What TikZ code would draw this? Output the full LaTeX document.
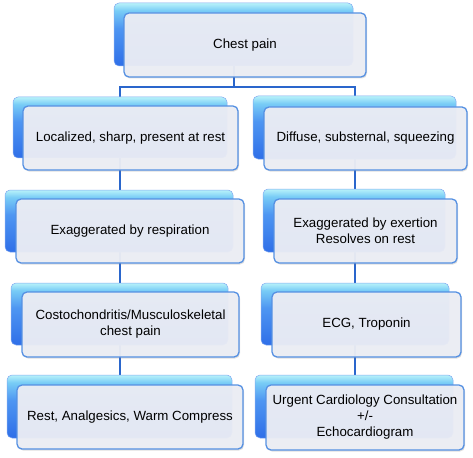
\documentclass[tikz,border=0pt]{standalone}
\usepackage{fontspec}
\setmainfont{Liberation Sans}
\usetikzlibrary{shadows,backgrounds}
\definecolor{connc}{HTML}{2A66CC}
\definecolor{frontfill}{HTML}{ECEEF5}
\definecolor{frontdraw}{HTML}{5590E2}
\definecolor{backtop}{HTML}{B8F2FA}
\definecolor{backcyan}{HTML}{78CCF6}
\definecolor{backmid}{HTML}{4E96F2}
\definecolor{backbot}{HTML}{2F6FE8}
\pgfdeclareverticalshading{backshade}{100bp}{color(0bp)=(backbot); color(25bp)=(backbot); color(55bp)=(backmid); color(69bp)=(backcyan); color(75bp)=(backtop); color(100bp)=(backtop)}
\tikzset{
 backbox/.style={rounded corners=5pt, shading=backshade, shading angle=0, draw=backbot!60, line width=0.5pt, inner sep=0pt},
 frontbox/.style={rounded corners=5pt, fill=frontfill, fill opacity=0.95, text opacity=1, draw=frontdraw, draw opacity=1, line width=1.3pt, align=center, inner sep=0pt,
   font=\fontsize{13.3}{16}\selectfont, text=black,
   drop shadow={shadow xshift=1pt, shadow yshift=-1.5pt, opacity=0.25}},
 connline/.style={draw=connc, line width=2pt}
}
\begin{document}
\begin{tikzpicture}[x=1pt,y=-1pt]
\useasboundingbox (0,0) rectangle (473,457);
% top
\node[backbox, minimum width=239pt, minimum height=63pt] (topb) at (233.5,34.5) {};
\node[frontbox, minimum width=242pt, minimum height=64pt] (topf) at (245,45) {Chest pain};
% row 2
\node[backbox, minimum width=214pt, minimum height=61pt] (l2b) at (120,127.5) {};
\node[frontbox, minimum width=215pt, minimum height=64pt] (l2f) at (130.5,138) {Localized, sharp, present at rest};
\node[backbox, minimum width=203pt, minimum height=63pt] (r2b) at (354.5,127.5) {};
\node[frontbox, minimum width=203pt, minimum height=63pt] (r2f) at (365.5,138.5) {Diffuse, substernal, squeezing};
% row 3
\node[backbox, minimum width=228pt, minimum height=62pt] (l3b) at (119,221) {};
\node[frontbox, minimum width=228pt, minimum height=64pt] (l3f) at (130,231) {Exaggerated by respiration};
\node[backbox, minimum width=182pt, minimum height=63pt] (r3b) at (354,220.5) {};
\node[frontbox, minimum width=183pt, minimum height=64pt] (r3f) at (365.5,231) {Exaggerated by exertion\\Resolves on rest};
% row 4
\node[backbox, minimum width=217pt, minimum height=62pt] (l4b) at (119.5,314) {};
\node[frontbox, minimum width=217pt, minimum height=65pt] (l4f) at (130.5,324.5) {Costochondritis/Musculoskeletal\\chest pain};
\node[backbox, minimum width=188pt, minimum height=62pt] (r4b) at (355,314) {};
\node[frontbox, minimum width=189pt, minimum height=65pt] (r4f) at (366.5,324.5) {ECG, Troponin};
% row 5
\node[backbox, minimum width=225pt, minimum height=63pt] (l5b) at (119.5,406.5) {};
\node[frontbox, minimum width=226pt, minimum height=64pt] (l5f) at (130,417) {Rest, Analgesics, Warm Compress};
\node[backbox, minimum width=198pt, minimum height=63pt] (r5b) at (354,406.5) {};
\node[frontbox, minimum width=198pt, minimum height=65pt] (r5f) at (365,417.5) {Urgent Cardiology Consultation\\+/-\\Echocardiogram};
% connectors
\coordinate (bus) at (0,87);
\begin{scope}[on background layer]
\draw[connline] (topb.center) -- (topb.center |- bus) -| (l2b.center);
\draw[connline] (topb.center |- bus) -| (r2b.center);
\draw[connline] (l2b.center) -- (l2b.center |- l5b.center);
\draw[connline] (r2b.center) -- (r2b.center |- r5b.center);
\end{scope}
\end{tikzpicture}
\end{document}
